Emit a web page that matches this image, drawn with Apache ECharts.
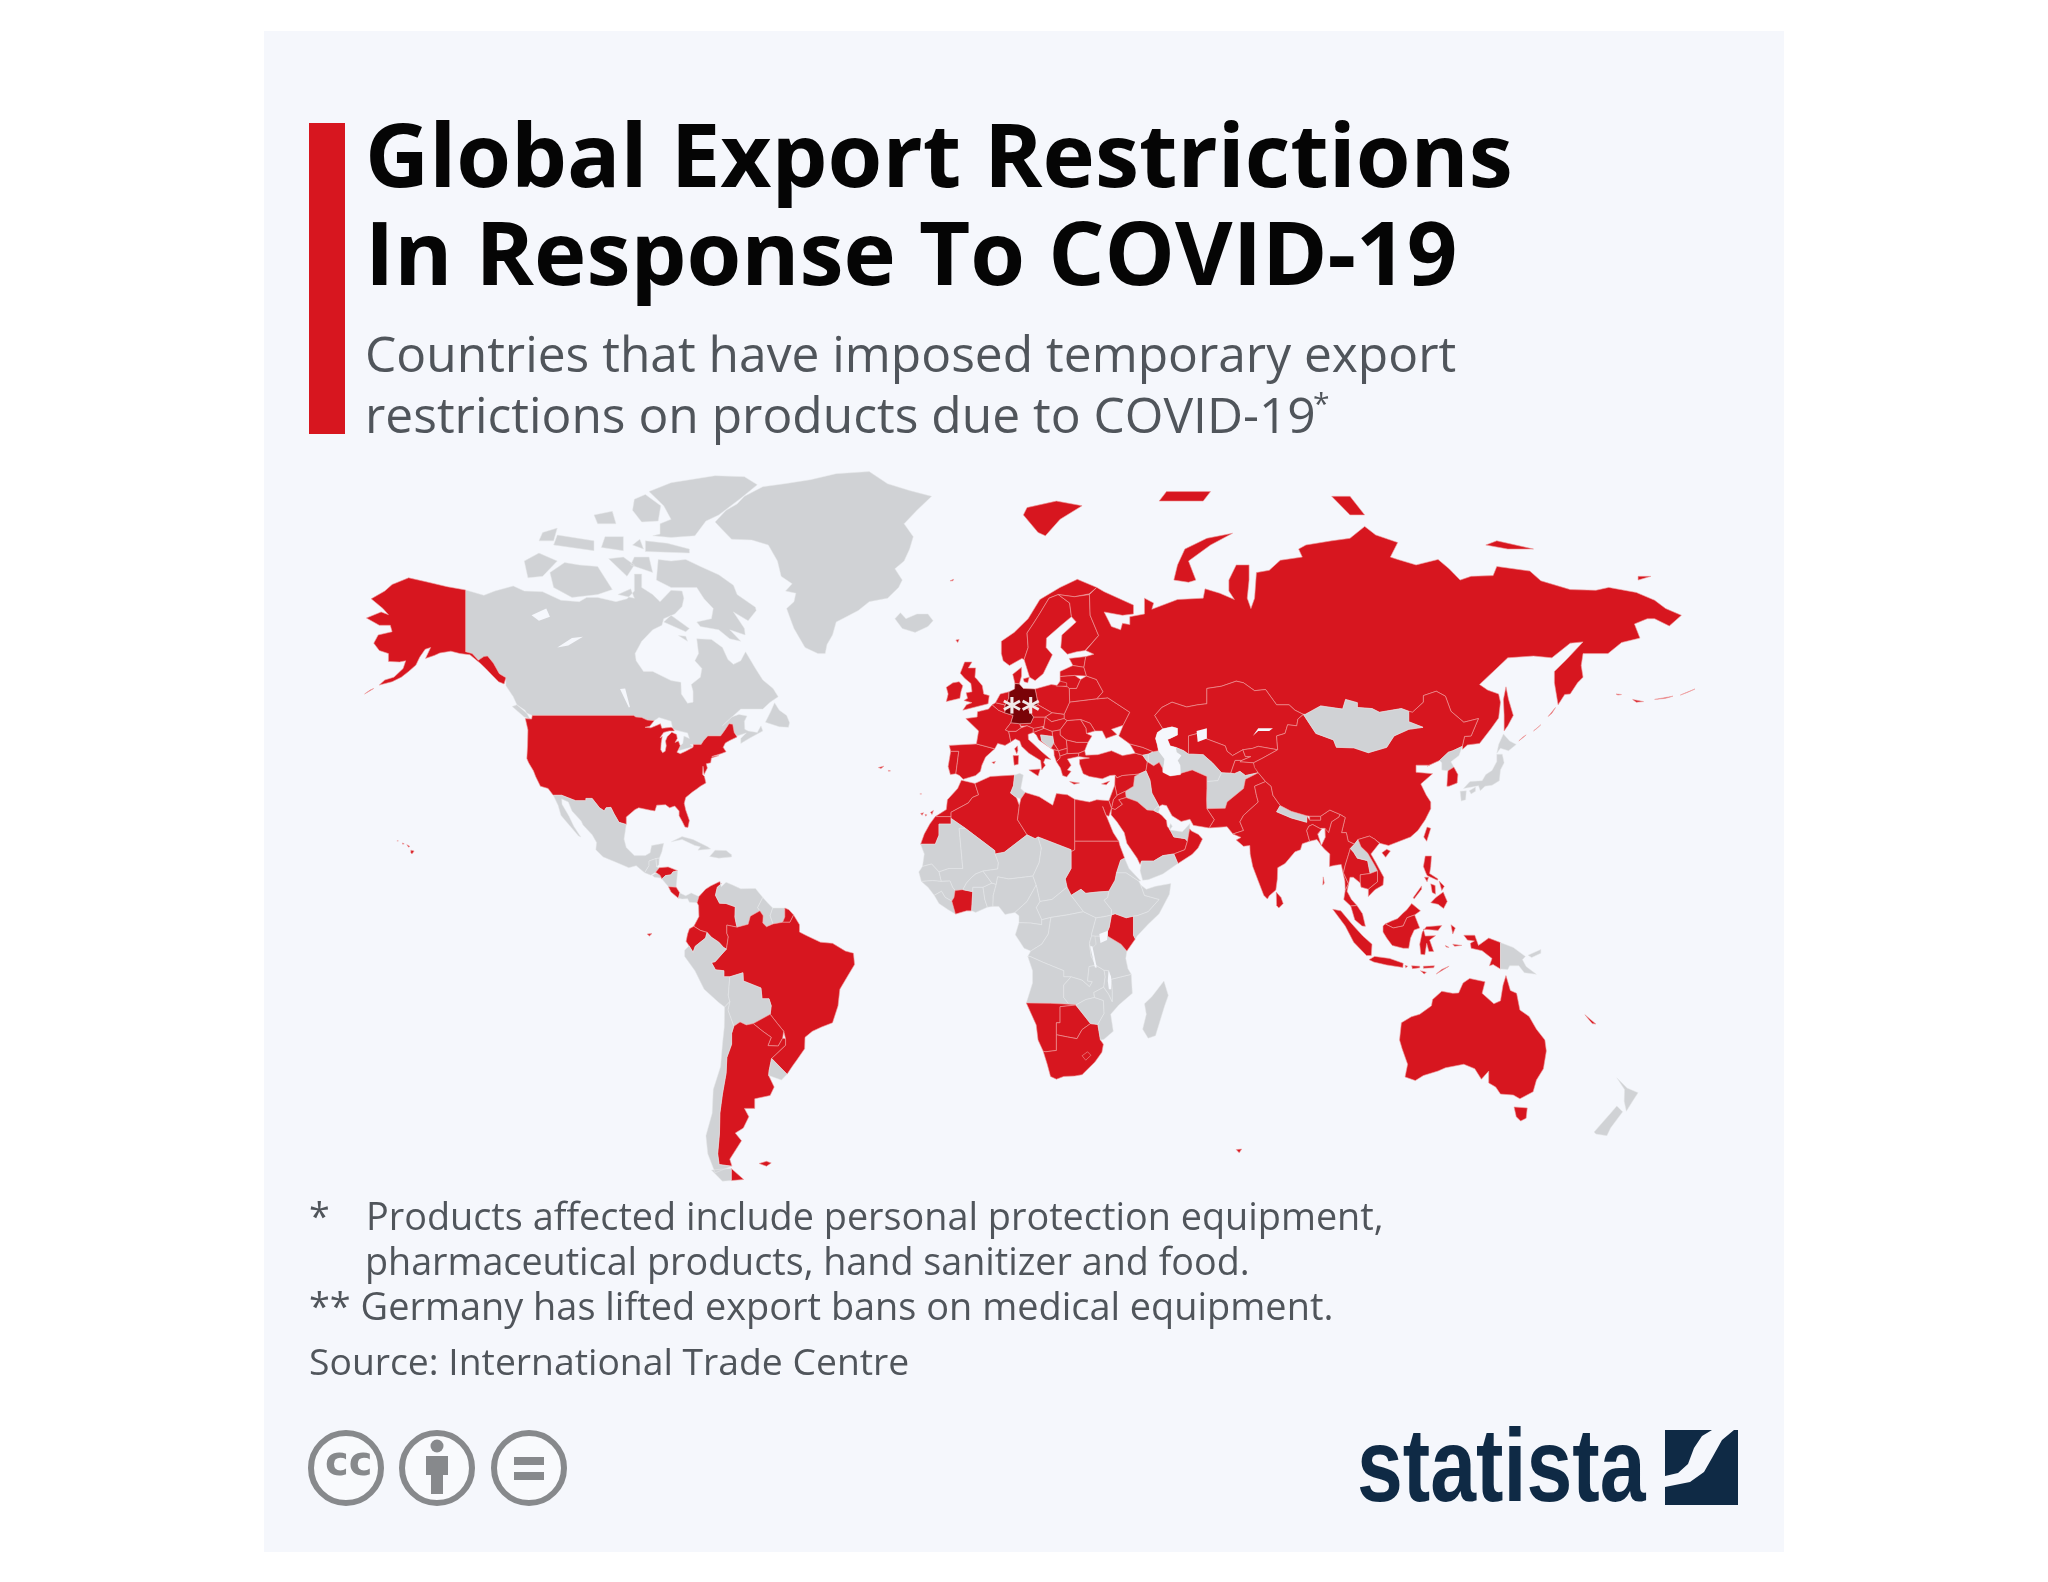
<!DOCTYPE html>
<html>
<head>
<meta charset="utf-8">
<script src="https://cdnjs.cloudflare.com/ajax/libs/echarts/6.0.0/echarts.min.js"></script>
<style>
  body { margin: 0; background-color: #fff; }
  #mainChart { width: 2048px; height: 1582px; }
</style>
</head>
<body>
<div id="mainChart"></div>
<script>
var titleLines = ['Global Export Restrictions', 'In Response To COVID-19'];
var subtitleLines = ['Countries that have imposed temporary export', 'restrictions on products due to COVID-19'];
var noteLines = ['Products affected include personal protection equipment,', 'pharmaceutical products, hand sanitizer and food.', '** Germany has lifted export bans on medical equipment.', 'Source: International Trade Centre'];

var restrictedCountries = ['United States', 'Russia', 'China', 'India', 'Bangladesh', 'Bhutan', 'Pakistan', 'Iran', 'Turkey', 'Kazakhstan', 'Uzbekistan', 'Kyrgyzstan', 'Tajikistan', 'Georgia', 'Syria', 'Jordan', 'Israel', 'Saudi Arabia', 'Oman', 'South Korea', 'Taiwan', 'Myanmar', 'Thailand', 'Cambodia', 'Vietnam', 'Malaysia', 'Indonesia', 'Philippines', 'Sri Lanka', 'Australia', 'Portugal', 'Spain', 'France', 'Belgium', 'Netherlands', 'Denmark', 'Switzerland', 'Austria', 'Italy', 'United Kingdom', 'Ireland', 'Norway', 'Sweden', 'Finland', 'Estonia', 'Latvia', 'Lithuania', 'Belarus', 'Ukraine', 'Poland', 'Czechia', 'Slovakia', 'Hungary', 'Romania', 'Moldova', 'Bulgaria', 'Serbia', 'Croatia', 'Slovenia', 'Montenegro', 'Albania', 'North Macedonia', 'Greece', 'Cyprus', 'Morocco', 'Western Sahara', 'Algeria', 'Libya', 'Egypt', 'Sudan', 'Ivory Coast', 'Kenya', 'Namibia', 'Botswana', 'South Africa', 'Lesotho', 'Honduras', 'Costa Rica', 'Colombia', 'Ecuador', 'Brazil', 'French Guiana', 'Paraguay', 'Argentina'];
var liftedCountries = ['Germany'];
var otherCountries = ['Canada', 'Greenland', 'Iceland', 'Mexico', 'Guatemala', 'Belize', 'El Salvador', 'Nicaragua', 'Panama', 'Cuba', 'Hispaniola', 'Venezuela', 'Guyana', 'Suriname', 'Peru', 'Bolivia', 'Chile', 'Uruguay', 'Bosnia', 'Azerbaijan', 'Armenia', 'Turkmenistan', 'Afghanistan', 'Iraq', 'Kuwait', 'Qatar', 'UAE', 'Yemen', 'Nepal', 'Mongolia', 'North Korea', 'Japan', 'Laos', 'Papua New Guinea', 'New Zealand', 'Tunisia', 'Mauritania', 'Mali', 'Senegal', 'Guinea', 'Sierra Leone', 'Ghana', 'Togo', 'Burkina Faso', 'Niger', 'Nigeria', 'Chad', 'Central African Republic', 'Cameroon', 'Gabon', 'DR Congo', 'Angola', 'Zambia', 'Zimbabwe', 'Mozambique', 'Malawi', 'Tanzania', 'Uganda', 'Rwanda', 'South Sudan', 'Ethiopia', 'Eritrea', 'Somalia', 'Madagascar'];
var lakeNames = ['Lakes'];

// country outlines, lon,lat rings
var countryShapes = {
  'Canada': [
    '-141,69.65 -136,68.9 -133,69.5 -128,70.2 -125,69.5 -120,69.4 -115,68.2 -110,68 -108,68.6 -105,68.6 -100,68 -97,68.4 -95,69.5 -95,71.8 -93,71.8 -93,70 -91.5,69.5 -90,69 -88,68 -85,69.6 -82,69.5 -81.5,68.5 -82,67.3 -84,66.2 -87,65.5 -87.5,64.5 -90,63.8 -93,62 -94.8,60 -94.5,58.8 -92.5,57 -90,57 -85,55.4 -82.3,55.1 -82.2,53 -80.5,51.3 -79,51.5 -79,53.5 -79.5,54.7 -77,56 -76.6,57.5 -78.5,58.8 -77.5,60 -78,62.4 -74,62.3 -71,61 -69.5,59 -68,58.2 -66,58.8 -64.7,60.3 -62,57.5 -60,55.5 -57.2,54 -55.8,52.5 -58,51.5 -60,50.2 -66,50.2 -69,48.3 -71,47 -68.5,48.7 -66.5,49.2 -64.3,48.9 -65,47.9 -64.9,46.3 -64,46 -61.5,45.7 -60.5,47 -60,46 -63.5,44.6 -66,43.5 -66,44.5 -64.5,45.6 -67,45 -67.8,45.7 -68.2,47.3 -69.2,47.4 -70.3,46.2 -71.5,45 -75,45 -76.2,44 -76.8,43.3 -78.9,43.3 -79.8,43.3 -79,42.8 -83,42 -82.5,43 -81.8,43.5 -81.5,45 -80,44.5 -80.5,45.6 -84,46.2 -84.6,46.6 -85,47.9 -88.3,48.6 -89.6,48 -91.5,48.1 -93,48.6 -94.6,48.7 -95.2,49 -122.8,49 -124.5,49.5 -127,51 -128,52.5 -130,54.5 -130,55.9 -131.8,56.6 -133.4,58.4 -135,59.6 -137.5,58.9 -139.2,60 -141,60.3',
    '-61.8,66.7 -64,65.2 -68,66.5 -65,64 -64.8,63 -69,63.8 -66,62 -69,62.4 -72,63.8 -77,64.3 -78,65 -74,65.5 -73.5,67 -76,68.4 -78,70 -85,70 -89,71 -88.5,73.7 -85,73.5 -81,73.7 -77,72.8 -72,71.7 -68,70.3 -67,69 -62,67.2',
    '-117,70 -112,68.6 -105,69 -101,69.7 -105,72.8 -110,73 -114,73.3 -118,72',
    '-124,71.3 -120,71.5 -116,73.5 -121,74.5 -125,73.5',
    '-90,76.6 -85,76.4 -78.5,76.6 -75.5,78.3 -72,79 -66,80.8 -61.5,82.2 -65,83 -73,83.1 -85,82.4 -91,81.5 -87,80 -85,78.5 -88,78 -88,76.8',
    '-95.5,79.5 -93,78.2 -88.5,78.3 -87.8,80 -92,81.2 -95,80.7',
    '-92,76 -86,75.7 -80,75 -80,74.5 -92,74.7',
    '-96,73 -90,72 -91,74 -95,74',
    '-117,75.5 -106,74.8 -106,76 -116,76.7',
    '-102,73.8 -97,71.5 -95,73 -98,74',
    '-104,75.2 -98,74.8 -98,76.5 -103,76.5',
    '-105,78 -100,78 -101,79.4 -106,79',
    '-95.5,75.5 -92.5,75 -93.5,76.2',
    '-121,76 -117,76 -116,77.5 -120,77',
    '-99.5,69 -95,68.5 -96,69.8',
    '-83,62.9 -80.5,62 -81,62.8',
    '-87,65 -81,63.5 -80,64 -85,66',
    '-59.3,47.7 -55.5,46.8 -53,46.7 -52.7,47.6 -53.5,49 -55.5,50 -56.8,51.4 -57.8,49.8',
    '-128.3,50.7 -125,48.7 -123.4,48.3 -124.8,50 -127,51'
  ],
  'United States': [
    '-124.7,48.4 -123,48.3 -122.8,49 -95.2,49 -94.6,48.7 -93,48.6 -91.5,48.1 -89.6,48 -90.8,46.9 -92.1,46.7 -90.5,46.6 -88.5,47.2 -87.9,47.4 -87.5,46.5 -85,46.7 -84.5,46.5 -84.1,46 -85.5,46 -87,45.7 -87.6,45.1 -88,44.6 -87.4,44.9 -87.7,43.5 -87.8,42.2 -87.3,41.6 -86.6,41.9 -86.3,43 -86.5,44 -86,44.9 -85.4,45.3 -84.8,45.75 -83.5,45.3 -83.3,44.5 -83.9,43.7 -83,44 -82.5,43 -83.1,42.1 -83.4,41.7 -82.5,41.4 -81,41.9 -79,42.7 -78.9,43.3 -76.8,43.3 -76.2,44 -75,45 -71.5,45 -70.3,46.2 -69.2,47.4 -68.2,47.3 -67.8,45.7 -67,44.8 -69,44.1 -70.2,43.6 -70.8,42.7 -70,41.8 -71.4,41.4 -73.9,40.8 -72,41 -74,40.5 -74.2,39.5 -75.4,39.3 -75.1,38.4 -76,37 -76.3,38.8 -76.4,37 -75.9,36.6 -75.5,35.2 -77,34.5 -78,33.9 -79.2,33.2 -81,32 -81.4,30.7 -81,29.2 -80,26.8 -80.4,25.2 -81.2,25.3 -81.9,26.5 -82.8,27.9 -82.8,29 -84,30.1 -85.4,29.7 -86.5,30.4 -88.9,30.3 -89.4,29 -90.9,29.2 -93.8,29.7 -94.8,29.3 -97.2,27.6 -97.2,25.9 -99.2,26.4 -100.5,28.3 -101.4,29.8 -102.7,29.7 -103.2,29 -104.5,29.7 -106.5,31.8 -108.2,31.8 -108.2,31.3 -111,31.3 -114.8,32.5 -117.1,32.5 -118.5,34 -120.6,34.5 -121.9,36.6 -122.5,37.8 -123.8,39.5 -124.3,40.4 -124.1,43 -124,46.2',
    '-141,69.65 -141,60.3 -139.2,60 -137.5,58.9 -136,59.5 -135,59.6 -133.4,58.4 -131.8,56.6 -130,55.9 -130.5,54.8 -132,55.2 -134,56.5 -135.5,57.5 -137,58.4 -139.8,59.8 -142.5,60 -145,60.4 -148,60.1 -149.5,59.7 -151.9,59.2 -150.5,61 -152,60.7 -153.5,59.4 -154.5,58.1 -156.5,57 -158.5,56 -161,55.2 -164.5,54.6 -163,55.5 -160.5,56 -158,57.5 -157.3,58.8 -159,58.6 -162,58.7 -162,60 -164.5,60.5 -166,61.7 -164.8,63 -161,63.5 -161.5,64.5 -164.5,64.5 -168,65.6 -164,66.5 -162,66.1 -163.5,67 -166.7,68.4 -163,69.5 -161,70.4 -156.5,71.3 -152,70.8 -146,70.1',
    '-166,54 -168.5,53 -167,53.7',
    '-155.9,19.9 -155,19.7 -155.6,19 -155.9,19.3',
    '-157,21.2 -156.2,20.8 -156.5,20.6',
    '-158.2,21.6 -157.7,21.4 -158.1,21.3',
    '-159.7,22.1 -159.3,22.1 -159.5,21.9',
    '172.5,53 174,52.9 173,52.8',
    '177,52 180,51.6 178,51.5',
    '183,52 188,52.6 186,52.2',
    '190,52.8 194,53.9 192,53.3'
  ],
  'Greenland': ['-73,78.2 -71,77.3 -68.5,76.2 -63,76.1 -58.5,75.5 -56,73.5 -55,71.5 -52,70.5 -53.8,69.5 -51,69.2 -51.5,68 -53.5,67 -52.5,65.5 -51.5,64 -50,62.5 -48.5,61 -45,60 -43,60 -42.5,61.5 -41,63 -40,65 -37.5,65.7 -34,66.7 -31,68 -26,68.5 -23,70 -22,71 -24,72.5 -21.5,73.5 -20,75 -19,76.5 -21.5,78 -18,79.5 -14,81 -20,81.6 -26,82.3 -31,83.5 -40,83.3 -47,82.7 -54,82.3 -60,82 -65,81 -67,80.2 -70,79.5'],
  'Iceland': ['-24,65.5 -22,64 -18.5,63.4 -15,64.3 -13.6,65.2 -15,66.2 -18,66.2 -21,65.5 -22.5,66.4'],
  'Mexico': ['-117.1,32.5 -114.8,32.5 -111,31.3 -108.2,31.3 -108.2,31.8 -106.5,31.8 -104.5,29.7 -103.2,29 -102.7,29.7 -101.4,29.8 -100.5,28.3 -99.2,26.4 -97.2,25.9 -97.8,22.5 -97.2,20.5 -95,18.6 -92,18.6 -90.7,19.3 -90.3,21 -87,21.5 -87.5,19.5 -88.2,18 -89.1,17.9 -91,17.3 -91,16.2 -92.2,14.5 -94.5,16.2 -96.5,15.7 -100,17 -103.5,18.3 -105.5,20 -105.3,21.7 -106.5,23.5 -109,25.8 -109.5,26.7 -112,29 -113,31 -114.8,31.7 -114.7,30.5 -112.8,27.8 -111.5,25.5 -110,23.5 -109.5,23 -110.2,23.2 -112,25 -114,27 -115,28 -115.8,30.3'],
  'Guatemala': ['-92.2,14.5 -91,16.2 -91,17.3 -89.1,17.9 -88.9,15.9 -88.2,15.7 -89.2,14.6 -90.5,13.9'],
  'Belize': ['-89.1,17.9 -88.2,18 -88.3,16.5 -88.9,15.9'],
  'El Salvador': ['-90.1,13.8 -89.2,14.4 -87.8,13.9 -87.8,13.2 -89.5,13.4'],
  'Honduras': ['-89.2,14.6 -88.2,15.7 -85.8,15.9 -83.2,15 -84.5,14.7 -85,14 -86.5,13.8 -87.5,13 -88,13.9'],
  'Nicaragua': ['-87.5,13 -86.5,13.8 -85,14 -84.5,14.7 -83.2,15 -83.6,11 -85.7,11.1'],
  'Costa Rica': ['-85.7,11.1 -83.6,11 -82.6,9.6 -83,8.3 -85,9.8'],
  'Panama': ['-83,8.3 -82.6,9.6 -81,8.9 -79.5,9.6 -77.4,8.7 -77.9,7.2 -80,7.3 -80.5,8.2 -82,8.1'],
  'Cuba': ['-84.9,21.9 -82,23.1 -79,22.4 -75,20.7 -74.2,20.2 -77.7,19.9 -77,20.7 -78.5,21 -82,22.4'],
  'Hispaniola': ['-74.5,18.4 -72,18 -68.5,18.3 -68.5,18.8 -70,19.8 -73,19.9'],
  'Colombia': ['-77.4,8.7 -75.6,10.5 -74.2,11.3 -71.7,12.4 -71.3,11.8 -72.4,11 -72.9,9 -71.8,7.1 -70,7 -67.5,6.2 -67.6,3.7 -67.3,2.3 -67,1.2 -69.8,1.7 -69.8,-0.3 -69.4,-1.2 -69.9,-4.2 -70.7,-3.8 -72,-2.5 -74,-1.3 -75.2,-0.1 -77,0.4 -78.8,1.4 -77.4,3.8 -77.5,6.5 -77.9,7.2'],
  'Venezuela': ['-71.7,12.4 -71.3,11.8 -72.4,11 -72.9,9 -71.8,7.1 -70,7 -67.5,6.2 -67.6,3.7 -67.3,2.3 -67,1.2 -64,1.9 -63.4,3.9 -60.8,5.2 -61.4,6 -60,8.5 -62,10.7 -66,10.6 -68.2,11.5 -70,12.2 -71.3,11.1'],
  'Guyana': ['-60,8.5 -61.4,6 -60.8,5.2 -59.9,4 -60,2.2 -59,1.3 -57.2,2 -58,4 -57.3,5.9 -58.5,7'],
  'Suriname': ['-57.3,5.9 -58,4 -57.2,2 -54.6,2.4 -54,3.7 -54,5.9'],
  'French Guiana': ['-54,5.9 -54,3.7 -54.6,2.4 -52.6,2.4 -51.6,4.2 -52.9,5.5'],
  'Brazil': ['-51.6,4.2 -52.6,2.4 -54.6,2.4 -57.2,2 -59,1.3 -60,2.2 -59.9,4 -60.8,5.2 -63.4,3.9 -64,1.9 -67,1.2 -69.8,1.7 -69.8,-0.3 -69.4,-1.2 -69.9,-4.2 -73,-7.3 -74,-7.5 -72.9,-9.3 -70.6,-9.5 -70.6,-11 -69,-11 -65.4,-10 -65.3,-12 -60.5,-13.7 -60.2,-16.3 -58.3,-16.3 -57.7,-18 -58,-20 -56,-22.2 -54.3,-24 -53.8,-25.7 -53.8,-27.2 -57.6,-30.2 -53.4,-33.7 -52,-32 -50.5,-30.3 -48.6,-28 -48.5,-25.4 -46.5,-24 -44,-23 -41,-22 -39.5,-18 -39,-14 -37,-11 -35,-8 -35.3,-5.2 -37.5,-4.7 -41,-2.8 -44.3,-2.5 -48.3,-0.8 -50,0 -50,1.8'],
  'Ecuador': ['-80.1,-3.4 -80.9,-2.3 -80.5,-0.5 -80,0.8 -78.8,1.4 -77,0.4 -75.2,-0.1 -75.6,-1.5 -78.4,-3.5 -79,-5', '-91.5,-0.5 -90.2,-0.4 -90.9,-1'],
  'Peru': ['-81.3,-4.5 -80.1,-3.4 -79,-5 -78.4,-3.5 -75.6,-1.5 -75.2,-0.1 -74,-1.3 -72,-2.5 -70.7,-3.8 -69.9,-4.2 -73,-7.3 -74,-7.5 -72.9,-9.3 -70.6,-9.5 -70.6,-11 -69,-11 -69.4,-15.5 -69,-17 -70.4,-18.3 -72,-17.2 -76,-14 -78.5,-9.5 -81.3,-6'],
  'Bolivia': ['-69,-11 -65.4,-10 -65.3,-12 -60.5,-13.7 -60.2,-16.3 -58.3,-16.3 -57.7,-18 -58,-20 -62.6,-22.2 -64.5,-22.5 -66.2,-21.8 -67.9,-22.8 -69.5,-19 -69,-17 -69.4,-15.5'],
  'Paraguay': ['-58,-20 -56,-22.2 -54.3,-24 -54.6,-25.6 -55.8,-27.4 -58.6,-27.3 -57.7,-25.4 -60,-24 -62.6,-22.2'],
  'Argentina': ['-66.2,-21.8 -64.5,-22.5 -62.6,-22.2 -60,-24 -57.7,-25.4 -58.6,-27.3 -55.8,-27.4 -54.6,-25.6 -53.8,-25.7 -53.8,-27.2 -57.6,-30.2 -58.3,-33 -58.4,-34 -56.9,-36.5 -58,-38.3 -62.2,-39 -62.2,-41 -65,-41 -63.8,-42.7 -65.3,-45 -67.5,-46 -65.8,-47.5 -69,-51 -68.4,-52.3 -71.9,-52 -72.3,-50 -71.8,-46 -71.7,-42 -71,-38 -70,-33.5 -69.8,-30 -68.5,-27 -68.5,-24.5 -67.9,-22.8', '-68.6,-52.7 -68.6,-54.9 -65.2,-54.7', '-61,-51.8 -59,-51.4 -57.7,-51.7 -59,-52.3'],
  'Chile': ['-70.4,-18.3 -69,-17 -69.5,-19 -67.9,-22.8 -68.5,-24.5 -68.5,-27 -69.8,-30 -70,-33.5 -71,-38 -71.7,-42 -71.8,-46 -72.3,-50 -71.9,-52 -68.4,-52.3 -73,-53.5 -75,-50 -75.5,-46.5 -73.8,-42 -73.5,-37 -71.5,-32 -71,-27 -70.5,-23', '-68.6,-52.7 -68.6,-54.9 -71,-55 -74,-53'],
  'Uruguay': ['-57.6,-30.2 -53.4,-33.7 -54.9,-35 -58.4,-34 -58.3,-33'],

  'Portugal': ['-9.5,38.7 -8.8,41.9 -6.6,41.9 -7,39.5 -7.4,37.2 -8.9,37', '-28.5,38.5 -27,38.8 -27.8,38.3', '-25.8,37.9 -25.2,37.8 -25.7,37.7', '-17.2,32.8 -16.7,32.8 -16.9,32.6'],
  'Spain': ['-8.8,41.9 -9.2,43.1 -1.8,43.4 3.2,42.4 0.7,40.7 -0.3,39 -0.7,37.7 -2,36.8 -5.4,36 -6.4,36.8 -7.4,37.2 -7,39.5 -6.6,41.9', '-17,28.4 -16.2,28.6 -16.6,28', '-15.8,28.2 -15.3,28.1 -15.6,27.8', '-14.3,28.7 -13.5,29.1 -13.9,28.2', '2.4,39.6 3.4,39.8 3,39.3'],
  'France': ['-1.8,43.4 -1.2,46 -4.7,48.4 -1.6,48.7 -1.5,49.7 1.5,50.2 2.5,51 4.2,50 5.9,49.5 8.2,49 7.6,47.6 6.1,46.2 7,45.9 7.6,43.8 6,43.1 4,43.5 3.2,42.4', '8.6,42.4 9.4,43 9.5,42 9.2,41.4', '164,-20.1 167,-22.3 166,-22.2', '69,-49.2 70.5,-49.1 69.8,-49.8'],
  'Belgium': ['2.5,51 3.4,51.4 5.9,51 6.1,50.1 5.9,49.5 4.2,50'],
  'Netherlands': ['3.4,51.4 4.7,53 7.1,53.4 7,52.2 6,50.8 5.9,51'],
  'Denmark': ['8.7,54.9 8.1,56.5 10.5,57.7 10.5,56.2 9.9,54.8', '11,55.7 12.6,56 12.2,55 11.2,55.2', '-7.4,62.2 -6.5,62.3 -6.9,61.8'],
  'Switzerland': ['6.1,46.2 7.6,47.6 10,47.4 10.4,46.6 9,45.9 7,45.9'],
  'Austria': ['10,47.4 13,47.5 13.8,48.7 17,48.7 16.6,46.9 14,46.4 12,47 10.4,46.9'],
  'Italy': ['7,45.9 9,45.9 10.4,46.6 12,47 13.7,46.5 13.7,45.7 12.3,45.3 12.4,44.3 13.6,43.5 16,41.8 18.5,40.2 17,40.4 16.5,39.6 17,39 16,38 15.7,40 12.5,41.5 10.5,42.9 10,44 8.8,44.4 7.6,43.8', '12.5,38 15.6,38.2 15,36.7', '8.2,41 9.7,41 9.6,39.2 8.5,39'],
  'United Kingdom': ['-5.5,50 1.4,51.2 1.7,52.7 0.2,53 -0.2,54.5 -1.6,55.6 -2.2,56 -2,57.6 -4,57.6 -3,58.6 -5,58.6 -6.2,56.7 -5,55.8 -3.3,54.9 -3,53.4 -4.6,53.2 -4.2,52.2 -5.2,51.8 -3,51.4 -4.5,51'],
  'Ireland': ['-10,51.6 -6.3,52.2 -6,53.4 -5.5,54.5 -6.5,55.2 -8.2,55 -10,54.2 -9.5,53'],
  'Norway': ['5,60 5.5,58.8 7.2,58 10.6,59.2 11.2,59 12.3,61 12,63.3 14,65 15.5,66.3 18,68.5 20.5,69 24.9,68.7 28.9,69.1 31,70 25.7,71.1 21,70 15.5,68.3 12.3,65.5 8.5,63.4 5,62', '11,79 15,77 17,76.6 21,78.5 27,80 20,80.5 12,79.8', '-9,70.9 -8,71.1 -8.2,70.9'],
  'Sweden': ['11.2,59 12.7,56 14.2,55.4 16.4,56.6 18.9,59.8 17.2,61 17.3,62.5 21.3,64.5 24.1,65.8 23.6,67.8 20.5,69 18,68.5 15.5,66.3 14,65 12,63.3 12.3,61'],
  'Finland': ['24.1,65.8 25.4,65 21.5,63 21.2,61 23,59.9 25.5,60.3 27.8,60.5 31.5,62.9 29.2,66 29,69 28.9,69.1 24.9,68.7 20.5,69 23.6,67.8'],
  'Estonia': ['23.5,59.2 28,59.5 27.5,57.7 24.5,58'],
  'Latvia': ['21,57 24.5,58 27.5,57.7 28.2,56.2 25,56.3 21,56.1'],
  'Lithuania': ['21,56.1 25,56.3 26.6,55.6 25.5,54 23.5,54 21,55.2'],
  'Belarus': ['23.5,54 25.5,54 26.6,55.6 28.2,56.2 30.9,55.6 32.7,53.4 31,52.1 23.6,51.5'],
  'Ukraine': ['23.6,51.5 31,52.1 34,52.3 40,49.6 38.2,47.1 35,46.3 36.5,45.3 33.5,44.5 32.5,46 30.5,46 29.2,47.5 26.6,48.2 22.9,48 22.1,48.4 22.1,49.2'],
  'Poland': ['14.2,53.9 18.6,54.7 23,54.3 23.5,54 23.6,51.5 22.1,49.2 18.8,49.5 15,51 14.6,52.6'],
  'Germany': ['6,50.8 7,52.2 7.1,53.4 8.6,53.9 8.7,54.9 9.9,54.8 11,54 14.2,53.9 14.6,52.6 15,51 12.2,50.3 13.8,48.7 13,47.5 10,47.4 7.6,47.6 8.2,49 5.9,49.5 6.1,50.1'],
  'Czechia': ['12.2,50.3 15,51 18.8,49.5 17,48.7 13.8,48.7'],
  'Slovakia': ['17,48.7 18.8,49.5 22.1,49.2 22.1,48.4 18.7,47.8'],
  'Hungary': ['16.6,46.9 17,48.7 18.7,47.8 22.1,48.4 22.9,48 21,46.2 18.8,45.9 16.6,46.5'],
  'Romania': ['22.9,48 26.6,48.2 28.1,46.5 28.2,45.5 29.7,45 28.6,43.7 25.5,43.7 22.7,44.2 21,45.2 21,46.2'],
  'Moldova': ['26.6,48.2 29.2,47.5 30.5,46 28.2,45.5 28.1,46.5'],
  'Bulgaria': ['22.7,44.2 25.5,43.7 28.6,43.7 27.7,42 26.1,41.5 22.9,41.4 22.9,42.5'],
  'Serbia': ['18.8,45.9 21,46.2 21,45.2 22.7,44.2 22.9,42.5 20.6,42 19.3,43.5 19,44.9'],
  'Croatia': ['13.7,45.7 16.6,46.5 18.8,45.9 19,44.9 15.7,45.2 16,44 18.5,42.5 15.2,44.2 14.5,45.2'],
  'Slovenia': ['13.7,46.5 16.1,46.8 16.6,46.5 13.7,45.7'],
  'Bosnia': ['15.7,45.2 19,44.9 19.3,43.5 18.5,42.5 16,44'],
  'Montenegro': ['18.5,42.5 19.3,43.5 20.6,42 19.3,42.2'],
  'Albania': ['19.3,42.2 20.6,42 21,40.9 21,40.5 20,39.7 19.4,41'],
  'North Macedonia': ['20.6,42 22.9,42.5 22.9,41.4 21,40.9'],
  'Greece': ['20,39.7 21,40.5 21,40.9 22.9,41.4 26.1,41.5 26,40.8 23,40.3 24,39 23,38 24,37.7 22.8,36.5 21.7,36.8 21.1,38.4', '23.6,35.5 26.3,35.2 24.8,34.9'],
  'Turkey': ['26.1,41.5 27.7,42 28,41.1 31.3,41.2 35,42 38,41 41.5,41.5 43.5,41.1 44.8,39.7 44.4,37.8 42.4,37.1 38,36.8 36.5,36.3 36,36.9 34.6,36.8 32.5,36.1 30.5,36.4 29,36.6 27.3,37.2 26.3,39.3 26.3,40.2 29,40.5 26,40.8'],
  'Cyprus': ['32.3,35 34.5,35.6 33.6,34.8'],
  'Georgia': ['40,43.4 43.5,42.7 46.4,41.8 45,41.3 43.5,41.1 41.5,41.5'],
  'Azerbaijan': ['45,41.3 46.4,41.8 47.8,42 49.5,40.3 49,37.5 48.9,38.4 48,39.6 46.5,38.9 45,39.8'],
  'Armenia': ['43.5,41.1 45,41.3 45,39.8 46.5,38.9 44.8,39.7'],

  'Russia': [
    '28,59.5 30.2,59.9 28,60.5 31.5,62.9 29.2,66 29,69 31,70 33,69.4 41,67.5 41,66.2 38,66 33,66.5 35,64.3 37.5,63.8 38,64.8 40,64.6 40,65.8 44,66.2 44,68.5 46.5,67.8 46,66.9 53,68.3 60,68.5 60.5,69.8 64.5,69.2 68.5,68.3 67,69.5 67,71 69,73 72.5,73 72.5,71 72,68.5 73,67 74,68.5 74.5,72 78,72.3 81,73.6 87,74 86,75 88,75.5 95,76 100,76.3 104,77.7 107,76.7 113,75.8 111,74 113,73.7 118,73 124,73.7 127,72.5 130,71 133,71.5 139,71.6 140,72.8 149,72.2 152,70.9 160,69.7 167,69.6 170.5,70 178,69.3 183,68.2 186,67 190.3,66 187,64.4 183,65.5 181,65.5 177.5,64.7 179,62.5 174,61.8 170.3,60 163.5,60 163,58 163.5,56 162,55 160,53 158.5,52.9 156.7,51 155.7,55 155.7,57 159,59 163.5,61.9 160,61.7 155,59.3 150,59.6 143,59.3 135.3,54.7 137.5,53.7 140.5,53 141,51.5 140.5,48.5 138.5,46.5 135.3,43.5 132,43.2 130.7,42.3 130.6,42.9 131.2,44.9 133,45 135,48.4 131,47.7 127.5,49.8 126,52.6 123.5,53.5 120,52.7 120,51.5 117,49.6 116,49.8 114,50.3 108,49.6 106,50.3 102,50.5 102,51.4 98.8,52 98,50.2 92,50.8 87.8,49.2 87.3,49.2 85,50 83.4,51 80,51 77,53.8 74,53.6 71,55 69,55.3 65,54.4 61,54 61,51.2 58.5,51 55.5,50.6 51.5,51.5 48.7,50.5 46.8,49 49,46.4 47.5,45.7 47,44.5 47.5,43.2 47.8,42 46.4,41.8 43.5,42.7 40,43.4 37,45 38.2,47.1 40,49.6 34,52.3 31,52.1 32.7,53.4 30.9,55.6 28.2,56.2 27.5,57.7',
    '20,54.4 22.8,54.4 22.8,55 21,55.3',
    '142.5,54.3 143.2,52 144.5,49 143,47 142,46 142,49 141.8,52',
    '52,71 56,70.7 58,71 56,73.5 62,75.5 68,76.9 61,76.3 55,75 53,73',
    '100,79 104,79 100,81 95,81',
    '48,80.5 60,80.5 62,81.5 50,81.5',
    '137,75.5 143,75 150,75 140,76',
    '178.5,71 182,71.5 178.5,71.5',
    '146,44 148,45.2 147,44.7',
    '150,46 152,47.2 150.8,46.4',
    '154,48.8 156,50.5 155,49.4'
  ],
  'Kazakhstan': ['46.8,49 48.7,50.5 51.5,51.5 55.5,50.6 58.5,51 61,51.2 61,54 65,54.4 69,55.3 71,55 74,53.6 77,53.8 80,51 83.4,51 85,50 87.3,49.2 85.8,48.3 85.5,47 83,47.2 82.3,45.5 80,45 80.3,42.2 75,42.9 73.5,42.5 70.8,42.2 68,41 66.5,41.9 66,43 61,44.4 58.5,45.5 56,45 56,41.3 54.7,42 52.5,42.7 51,43 50.3,44.3 51,44.5 53,45.2 53,46.5 51.5,46.8 49,46.4'],
  'Uzbekistan': ['56,45 58.5,45.5 61,44.4 66,43 66.5,41.9 68,41 70.8,42.2 71.5,40.8 73,40.8 70.5,40 68.7,40 67.5,37.3 65,37.4 62.5,39.5 60,41.2 57,41.3 56,41.3'],
  'Turkmenistan': ['52.5,42.7 54.7,42 56,41.3 57,41.3 60,41.2 62.5,39.5 65,37.4 64,35.7 61,35.5 61,36.6 57,38 54,37.3 53.8,37 53.7,39 53,40 54,41 52.7,41.7'],
  'Kyrgyzstan': ['70.8,42.2 73.5,42.5 75,42.9 80.3,42.2 76,40.4 73.7,39.5 70,39.7 70.5,40 73,40.8 71.5,40.8'],
  'Tajikistan': ['67.5,37.3 68.7,40 70.5,40 70,39.7 73.7,39.5 75,37.4 71.5,36.8 70,37.7 68.5,37.2'],
  'Afghanistan': ['61,35.5 64,35.7 65,37.4 67.5,37.3 68.5,37.2 70,37.7 71.5,36.8 75,37.4 71.5,36 71,34 69.5,33 66.5,31 66,29.6 61,29.5 60.9,31.5 61,34'],
  'Pakistan': ['61,29.5 66,29.6 66.5,31 69.5,33 71,34 71.5,36 75,37.4 77,35.5 74,34.5 74.5,32.5 75,31 71,28 70,26.5 71,24.5 68.1,23.7 66.5,25.4 61.6,25.1 63,27'],
  'Iran': ['44.8,39.7 46.5,38.9 48,39.6 48.9,38.4 49,37.5 51,36.7 53.8,37 54,37.3 57,38 61,36.6 61,35.5 61,34 60.9,31.5 61,29.5 63,27 61.6,25.1 57.3,25.7 56.4,27.1 54,26.6 51.5,27.9 50,30.2 48.8,30.4 48,30 46,33 45.5,35.8 44.4,37.8'],
  'Iraq': ['38.8,33.4 41,34.5 41.3,36.6 42.4,37.1 44.4,37.8 45.5,35.8 46,33 48,30 47.7,30 46.5,29.1 44.7,29.2 42,31.1 39,32'],
  'Syria': ['36,36.9 36.5,36.3 38,36.8 42.4,37.1 41.3,36.6 41,34.5 38.8,33.4 36.5,32.5 35.9,34.7'],
  'Jordan': ['36.5,32.5 38.8,33.4 39,32 37,31.5 38,30.5 36,29.3 35,29.6 35.5,31.5'],
  'Israel': ['35.5,33.9 35.9,34.7 36.5,32.5 35.5,31.5 35,29.6 34.3,31.3'],
  'Saudi Arabia': ['36,29.3 38,30.5 37,31.5 39,32 42,31.1 44.7,29.2 46.5,29.1 47.7,28.6 48.7,28 50,26.8 50.2,25.5 51,24.6 52,23 55.1,22.6 55.7,22 55,20 52,19 49,18.6 46.5,17.3 43.2,17.3 42.8,16.5 42,18 39.2,21.5 38.5,24 36.5,26.5 34.9,28.1 35,29.6'],
  'Kuwait': ['46.5,29.1 47.7,30 48.2,29.6 47.7,28.6'],
  'Qatar': ['50.9,24.6 51.6,25.5 51.1,26.1 50.8,25.5'],
  'UAE': ['51,24.6 52,23 55.1,22.6 55.7,22 56.3,24.9 56.4,26.1 54.3,24.2'],
  'Oman': ['55.7,22 55,20 52,19 53.1,16.7 57,18.9 58.6,20.4 59.8,22.5 58.7,23.6 56.8,24.4 56.3,24.9'],
  'Yemen': ['43.2,17.3 46.5,17.3 49,18.6 52,19 53.1,16.7 49,14.2 45,12.8 43.5,12.7 42.8,15'],
  'India': ['68.1,23.7 71,24.5 70,26.5 71,28 75,31 74.5,32.5 74,34.5 77,35.5 78.5,34.5 79,32.5 81,30.2 80,28.8 84,27.4 88.2,26.4 88.2,27.9 89,26.9 92,26.9 92,27.8 94.5,29.2 97.3,28.2 97,27.6 95,26.5 94.2,24 93.3,23 93.2,25 92,25 91.5,24 91.2,23.7 92.2,24.8 89.8,25.9 88.8,25.5 88.2,24.5 89,22 87,21.4 86.5,20 85,19.5 82.3,16.7 80.3,15.7 80.2,13 79.8,10.3 78,8.9 77.5,8.1 76.5,9 75,12.5 73.5,16 72.8,19 72.7,21 71,20.8 69,22.3 70.3,22.9', '92.7,13.5 93,12 92.6,11.5'],
  'Bangladesh': ['88.2,24.5 88.8,25.5 89.8,25.9 92.2,24.8 91.2,23.7 92.2,21 91,22.4 89,22'],
  'Nepal': ['80,28.8 81,30.2 84,28.9 88.2,27.9 88.2,26.4 84,27.4'],
  'Bhutan': ['89,26.9 89,27.8 92,27.8 92,26.9'],
  'China': ['73.7,39.5 76,40.4 80.3,42.2 80,45 82.3,45.5 83,47.2 85.5,47 85.8,48.3 87.3,49.2 90.7,45.5 95.5,44.2 96.3,42.7 101,42.6 105,41.6 110,42.7 112,45 116,46.3 119.9,46.7 116,47.8 116,49.8 117,49.6 120,51.5 120,52.7 123.5,53.5 126,52.6 127.5,49.8 131,47.7 135,48.4 133,45 131.2,44.9 130.6,42.9 128,42 126.8,41.7 124.4,40 121,38.8 121.7,39 118,39 118,37.5 122.5,37.2 119.3,35 120.8,32.5 122,31 122,29.5 120.5,27 118.5,24.5 116.5,23 113.5,22 110.5,21 108.2,21.5 106.7,22.5 105.3,23.2 102.2,22.4 101.2,21.3 99.5,22 99,24 97.7,24 98.7,27.5 97.3,28.2 94.5,29.2 92,27.8 89,27.8 88.2,27.9 84,28.9 81,30.2 79,32.5 78.5,34.5 77,35.5 75,37.4 74,38.5', '108.7,19.3 110,20.1 111,19.7 109.7,18.2'],
  'Taiwan': ['120.1,23 121,25.3 122,25 120.9,22'],
  'Mongolia': ['87.3,49.2 90.7,45.5 95.5,44.2 96.3,42.7 101,42.6 105,41.6 110,42.7 112,45 116,46.3 119.9,46.7 116,47.8 116,49.8 114,50.3 108,49.6 106,50.3 102,50.5 102,51.4 98.8,52 98,50.2 92,50.8 87.8,49.2'],
  'North Korea': ['124.4,40 126.8,41.7 128,42 130.6,42.9 129.7,41 127.5,39.7 128.3,38.6 126.7,37.8 125,38 125,39.5'],
  'South Korea': ['126.7,37.8 128.3,38.6 129.4,37 129.2,35.2 127,34.5 126.4,34.5 126.6,37'],
  'Japan': ['130.9,34 132.7,35.5 136,35.7 137,37 138.7,37.9 140,39.8 140,41.3 141.5,41.3 142,39.5 141,38 140.7,35.7 138.7,34.7 136.8,34.5 135.5,33.5 135,34.6 132.5,34.2', '140,41.5 140.5,43.3 141.8,45.4 143.5,44 145.3,43.3 143.2,42 141,42.5', '130,33.4 131.7,33.5 131.5,31.5 130.3,31.2', '132.5,33.5 134.2,34.3 134.2,33.4 133,32.8'],
  'Myanmar': ['92.2,21 93.3,23 93.2,25 94.2,24 95,26.5 97,27.6 97.3,28.2 98.7,27.5 97.7,24 99,24 99.5,22 101.2,21.3 100.1,20.3 98.7,16.3 98.2,14.5 99.6,11.8 98.7,10.2 98.6,12.5 97.6,16.5 96,16.3 94.4,16 94.5,19 93,20.2'],
  'Thailand': ['98.7,16.3 100.1,20.3 101,19.4 102,18 104.8,17.4 105.5,14.3 102.8,14 102.8,12 100.9,13.4 100,13.4 99.2,10 100.4,8 101.9,6.5 100.2,6.4 98.3,8 98.7,10.2 99.6,11.8 98.2,14.5'],
  'Laos': ['101.2,21.3 102.2,22.4 103,20.7 104.8,19.2 106.6,16.5 107.5,15 105.5,14.3 104.8,17.4 102,18 101,19.4 100.1,20.3'],
  'Cambodia': ['102.8,14 105.5,14.3 107.5,15 107.5,12.3 105,10.5 103,11 102.8,12'],
  'Vietnam': ['102.2,22.4 105.3,23.2 106.7,22.5 108,21.5 105.7,19 107,17 109.2,13.4 109,11.5 106.8,10.4 105,8.7 105,10.5 107.5,12.3 107.5,15 106.6,16.5 104.8,19.2 103,20.7'],
  'Malaysia': ['100.2,6.4 101.9,6.5 103.4,4.5 104.2,1.4 103.3,1.5 101.3,3', '109.6,2 111.3,2.7 113,3.3 114.5,4.7 115.5,5.5 116.8,7 119.2,5.2 117.6,4.2 115.5,3.5 114.5,1.5 111.8,1'],
  'Indonesia': [
    '95.3,5.6 97.5,5.2 100.5,2 103.5,-1 106,-3 105.8,-5.8 104.5,-5.8 101,-2.5 98.7,1.5',
    '105.2,-6.8 106.7,-6 110.8,-6.5 114.5,-7.7 114.4,-8.7 110,-8.1 106.5,-7.4',
    '115,-8.2 115.7,-8.4 115.2,-8.8',
    '116.8,-8.3 119,-8.4 119,-8.8 117,-9',
    '120,-8.4 123,-8.3 122.8,-8.8 120,-8.9',
    '119.2,-9.5 120.8,-9.9 120.2,-10.3',
    '123.5,-10.3 127,-8.4 125,-9.2',
    '109,1.5 109.6,2 111.8,1 114.5,1.5 115.5,3.5 117.6,4.2 119,1 117.5,0.5 116.5,-1.5 116,-4 114.5,-4 111.5,-3.3 110,-1.5 109,0',
    '119.3,-5.5 120.4,-5.6 120.9,-2.8 121.5,-4.8 122.8,-4.8 121.7,-2 123.3,-0.9 120.5,-1 120,0.7 124,0.4 125,1.6 120.8,1.3 119.7,0 119,-3',
    '127.5,1.8 128.7,1 128,-0.5',
    '128,-3 130.5,-3.3 128.5,-3.5',
    '126,-3.3 127,-3.8 126.2,-3.7',
    '131,-0.8 134,-0.8 135,-3.3 137.8,-1.5 141,-2.6 141,-9.1 139,-8 138,-8.3 138.7,-6.5 136,-4.6 133,-4 132.8,-2.8 133.9,-2.2 132,-2'
  ],
  'Papua New Guinea': ['141,-2.6 144.5,-3.8 147.8,-6 147,-6.8 148,-8.5 150.8,-10.4 147.5,-10 146,-8.3 143.5,-8.3 143,-9.2 141,-9.1', '148.5,-5.7 152,-4.3 152,-5.2 149.5,-6.3'],
  'Philippines': ['120.5,18.5 122.2,18.5 122,16 121.7,14.3 124,13 123.8,12.7 121,13.8 120.6,14.6 120,16', '122,7.2 123.4,8.5 125.4,9.8 126.5,7.5 125.5,5.8 124,6.8', '124.3,12.5 125.7,11.2 125,10.2', '122,11.8 123.2,11.4 123.3,9.3 122.4,9.7', '117.2,8.4 119.5,11.3 119.5,10.5 117.5,8.2', '120.3,13.4 121.4,13.4 121,12.3'],
  'Sri Lanka': ['79.9,9.8 81.2,8.5 81.8,7 80.6,5.9 80,6.5'],
  'Australia': ['113.5,-26 114,-22 116.7,-20.6 119,-20 122.2,-18 122.5,-16.5 125,-14.5 128,-15 129.6,-14.9 130.8,-12.5 132.6,-11.4 136.8,-12.2 136,-15 139.2,-17.5 141,-16.8 141.7,-13 142.5,-10.7 143.7,-14.3 145.4,-15 146.3,-19 148.8,-20.5 150.8,-23.5 153.1,-26 153.5,-28.5 152.7,-32.5 150.8,-35 149.9,-37.5 146.3,-39 144.5,-38.2 141,-38 139.7,-36.5 137.8,-35.6 137.8,-33 135.8,-34.8 134,-32.5 131,-31.5 126,-32.3 124,-33 120,-34 117.8,-35.1 115,-34.3 115.7,-31.5 114.2,-28', '144.7,-40.7 148.3,-40.9 148,-43 146.5,-43.6 145.3,-42.7'],
  'New Zealand': ['172.7,-40.5 174.3,-41.7 171,-45 170,-46.5 167,-46.2 166.5,-45.8 171,-42', '172.7,-34.5 175.5,-36.7 178.5,-37.7 177,-39.5 175.3,-41.6 174.7,-39.5 174.8,-37'],

  'Morocco': ['-5.9,35.8 -2.2,35.1 -1.2,32.6 -2.9,32 -4,30.8 -8.7,28.7 -8.7,27.7 -13,27.7 -10,29.3 -9.7,31.5 -6.9,34'],
  'Western Sahara': ['-8.7,27.7 -8.7,26 -12,26 -12,23.4 -13,21.3 -17,21.3 -16,23.7 -14.5,26 -13,27.7'],
  'Algeria': ['-2.2,35.1 2,36.6 8.6,36.9 8.3,34.6 7.5,33 9.1,32 9.9,30.2 9.4,27 12,23.5 5.8,19.4 3.3,19 3.2,19.8 -4.8,25 -8.7,27.3 -8.7,28.7 -4,30.8 -2.9,32 -1.2,32.6'],
  'Tunisia': ['8.6,36.9 10,37.3 11,36.9 10.3,34 11.5,33.1 10.3,31.7 9.1,32 7.5,33 8.3,34.6'],
  'Libya': ['11.5,33.1 15.3,32.2 19,30.3 20,32.9 23,32.6 25,31.6 25,20 24,19.5 24,20 15,23 14.2,22.6 12,23.5 9.4,27 9.9,30.2 10.3,31.7'],
  'Egypt': ['25,31.6 29,31 31,31.5 34.3,31.3 35,29.6 34.3,27.8 33.5,28 32.6,30 33.6,27.9 35.5,24 37,22 25,22'],
  'Sudan': ['24,19.5 25,20 25,22 37,22 37.3,21 38.6,18 37.5,17.5 36.4,14.5 36,12.7 34.3,10 31,9.8 28,9.5 26.7,10.5 24,9 22.9,11 22.4,13 24,15.5'],
  'Mauritania': ['-17,21.3 -13,21.3 -12,23.4 -12,26 -8.7,26 -8.7,27.3 -4.8,25 -6.5,25 -5.5,15.5 -9.3,15.5 -12,14.7 -14,16.6 -16.5,16 -16,19'],
  'Mali': ['-4.8,25 3.2,19.8 3.3,19 4.2,16.9 4,15.4 0,14.9 -2,14.2 -3.2,13.3 -4.5,12 -5.5,10.4 -7.6,10.2 -8.3,11 -9,12.5 -11.4,12.4 -12,14.7 -9.3,15.5 -5.5,15.5 -6.5,25'],
  'Senegal': ['-16.5,16 -14,16.6 -12,14.7 -11.4,12.4 -13.7,12.6 -16.8,12.4 -17.5,14.7'],
  'Guinea': ['-16.8,12.4 -13.7,12.6 -11.4,12.4 -9,12.5 -8.3,11 -7.6,10.2 -7.9,8.5 -8.5,7.6 -10.3,8.5 -11.3,10 -13.3,9 -15,11'],
  'Sierra Leone': ['-13.3,9 -11.3,10 -10.3,8.5 -8.5,7.6 -7.5,4.4 -9.5,5.5 -12,7'],
  'Ivory Coast': ['-7.6,10.2 -5.5,10.4 -2.8,9.9 -3.1,5.2 -4.5,5.2 -7.5,4.4 -8.5,7.6 -7.9,8.5'],
  'Ghana': ['-3.1,5.2 -2.8,9.9 -2.8,11 0,11 0.5,8 1.2,6.1 -2,4.8'],
  'Togo': ['0,11 2.4,12 3.6,11.7 2.8,9 2.7,6.3 1.2,6.1 0.5,8'],
  'Burkina Faso': ['-5.5,10.4 -4.5,12 -3.2,13.3 -2,14.2 0,14.9 2.4,12 0,11 -2.8,11 -2.8,9.9'],
  'Niger': ['3.3,19 5.8,19.4 12,23.5 14.2,22.6 15,23 15.9,20.4 15.3,16.9 13.6,13.7 10,13.3 7,13 4,13.5 3.6,11.7 2.4,12 0,14.9 4,15.4 4.2,16.9'],
  'Nigeria': ['2.7,6.3 2.8,9 3.6,11.7 4,13.5 7,13 10,13.3 13.6,13.7 14.5,11.5 12,7.5 8.7,4.8 6,4.3 4.3,6.3'],
  'Chad': ['15,23 24,20 24,19.5 24,15.5 22.4,13 22.9,11 18.8,8 15.5,7.5 14.5,11.5 13.6,13.7 15.3,16.9 15.9,20.4'],
  'Central African Republic': ['14.5,6 15.5,7.5 18.8,8 22.9,11 24,9 27.4,5 22.9,4.2 18.5,3.6 16,3'],
  'Cameroon': ['8.7,4.8 12,7.5 14.5,11.5 15.5,7.5 14.5,6 16,3 16,1.8 13,2.2 9.8,2.3 9.8,4'],
  'Gabon': ['9.8,2.3 13,2.2 16,1.8 16,3 18.5,3.6 17.8,-0.5 16,-3 13,-4.7 11.2,-4 8.8,-0.7'],
  'DR Congo': ['12.2,-6 13,-4.7 16,-3 17.8,-0.5 18.5,3.6 22.9,4.2 27.4,5 30.8,3.5 29.6,-0.5 29.6,-1 29,-2.8 29.5,-6 30.8,-8.2 28.9,-8.5 28.5,-12 29.8,-12.2 29,-13.4 27,-11.8 24,-11 22,-11 22,-9.5 16.5,-7.5 12.8,-6'],
  'Angola': ['12.2,-6 12.8,-6 16.5,-7.5 22,-9.5 22,-11 24,-11 22,-13 22,-16 23.4,-17.6 18.4,-17.4 11.8,-17.3 13.5,-12.5 13.5,-9.5'],
  'Zambia': ['24,-11 27,-11.8 29,-13.4 29.8,-12.2 28.5,-12 28.9,-8.5 30.8,-8.2 33,-9.4 33.3,-11 32.9,-13.5 30.2,-14.8 30.4,-16 28,-16.5 25.3,-17.8 23.4,-17.6 22,-16 22,-13'],
  'Namibia': ['11.8,-17.3 18.4,-17.4 23.4,-17.6 25.3,-17.8 21,-18.2 21,-22 20,-22 20,-28.4 17.1,-28.7 16.4,-28.6 15,-26 14.5,-22.5'],
  'Botswana': ['21,-18.2 25.3,-17.8 29.3,-22.2 27,-23.6 25.6,-25.7 23,-25.3 20,-24.8 20,-22 21,-22'],
  'South Africa': ['16.4,-28.6 17.1,-28.7 20,-28.4 20,-24.8 23,-25.3 25.6,-25.7 27,-23.6 29.3,-22.2 31.3,-22.4 32,-26 32.8,-27 32.4,-28.8 30.5,-31 27,-33.8 25,-34.1 22,-34.2 20,-34.8 18.4,-34.2 17.5,-31.5'],
  'Lesotho': ['27,-29.6 28.5,-28.7 29.4,-29.5 28,-30.6'],
  'Zimbabwe': ['25.3,-17.8 28,-16.5 30.4,-16 32.8,-16.7 33,-19.8 31.3,-22.4 29.3,-22.2'],
  'Mozambique': ['30.2,-14.8 32.9,-13.5 34.3,-15.3 35.2,-17 35.2,-14.5 34.9,-11.6 40.4,-10.4 40.7,-15 37,-17.8 34.8,-20 35.5,-24 32.9,-25.9 32,-26 31.3,-22.4 33,-19.8 32.8,-16.7 30.4,-16'],
  'Malawi': ['33,-9.4 34.3,-9.5 34.9,-11.6 35.2,-14.5 35.2,-17 34.3,-15.3 32.9,-13.5 33.3,-11'],
  'Tanzania': ['29.6,-1 30.5,-1 33.9,-1 37.6,-3 39.2,-4.7 38.9,-6.5 39.5,-9 40.4,-10.4 34.9,-11.6 34.3,-9.5 33,-9.4 30.8,-8.2 29.5,-6 29,-2.8'],
  'Kenya': ['33.9,-1 33.9,0.1 34.4,1.2 35,4.2 36,4.5 39,3.5 41,3.9 41,-0.8 41.5,-1.7 39.2,-4.7 37.6,-3'],
  'Uganda': ['29.6,-1 30.5,-1 33.9,-1 33.9,0.1 34.4,1.2 35,4.2 33,3.8 30.8,3.5 29.6,-0.5'],
  'Rwanda': ['29,-2.8 29.6,-1 30.5,-1 30.8,-3 29.5,-4.2'],
  'South Sudan': ['24,9 26.7,10.5 28,9.5 31,9.8 34.3,10 34,8.5 33,7.8 35,5.5 35,4.2 33,3.8 30.8,3.5 27.4,5'],
  'Ethiopia': ['36,12.7 36.4,14.5 39,14.5 42.4,12.5 43,11.5 44,9 48,8 45,5 42,4 41,3.9 39,3.5 36,4.5 35,4.2 35,5.5 33,7.8 34,8.5 34.3,10'],
  'Eritrea': ['36.4,14.5 37.5,17.5 38.6,18 39.8,15.5 43,12.5 42.4,12.5 39,14.5'],
  'Somalia': ['41,3.9 42,4 45,5 48,8 44,9 43,11.5 44.5,10.5 47,11.2 51.2,11.9 50.8,9.3 48,4.5 45,1.9 42,-1 41.5,-1.7 41,-0.8'],
  'Madagascar': ['49.3,-12 50.5,-15.5 49.5,-18 47,-25 45,-25.6 43.5,-23.5 44.5,-20 44,-17.5 46,-15.8'],

  'Lakes': [
    '-123,66 -119,67 -118,65.8 -121,65.2',
    '-116,61 -112,62.5 -109,62.7 -113,61.3',
    '-98.9,53.9 -96.5,50.5 -96.2,50.6 -97.5,54',
    '47.5,45.7 49,46.4 51.5,46.8 53,46.5 53,45.2 51,44.5 50.3,44.3 51,43 52.5,42.7 52.7,41.7 54,41 53,40 53.7,39 53.8,37 51,36.7 49,37.5 49.5,40.3 47.8,42 47.5,43.2 47,44.5',
    '58.2,46 61,46.5 61,44.5 58.5,43.8',
    '73.5,45 75,46.5 79,46.5 78,46 75,46',
    '31.7,-0.5 34,0.3 33.8,-2 32,-2.7',
    '34.2,-9.5 34.9,-11 34.9,-14 34.3,-14 34,-12',
    '29.2,-3.5 29.8,-3.5 31,-8.7 30.5,-8.7'
  ]
};

var PANEL = '#f5f7fc', RED = '#d7161f', DARKRED = '#7a0308', GREY = '#d0d2d5', TEXTGREY = '#50555b', NAVY = '#0f2a45';
var X_SCALE = 3.67, Y_SCALE = 4.06, LON0_X = 983, EQUATOR_Y = 932;

// miller projection, stretched a bit in y like the original
function millerY(lat) {
  return 1.25 * Math.log(Math.tan(Math.PI / 4 + 0.4 * lat * Math.PI / 180)) * 180 / Math.PI;
}
var projection = {
  project: function (p) { return [p[0] * X_SCALE, -millerY(p[1]) * Y_SCALE]; },
  unproject: function (p) {
    var y = -p[1] / Y_SCALE * Math.PI / 180;
    return [p[0] / X_SCALE, 2.5 * (Math.atan(Math.exp(0.8 * y)) - Math.PI / 4) * 180 / Math.PI];
  }
};

function parseRing(s) {
  return s.trim().split(/\s+/).map(function (p) { return p.split(',').map(Number); });
}

var features = [];
var minX = Infinity, maxX = -Infinity, minY = Infinity, maxY = -Infinity;
Object.keys(countryShapes).forEach(function (name) {
  var rings = countryShapes[name].map(function (s) {
    var r = parseRing(s);
    r.forEach(function (pt) {
      var q = projection.project(pt);
      minX = Math.min(minX, q[0]); maxX = Math.max(maxX, q[0]);
      minY = Math.min(minY, q[1]); maxY = Math.max(maxY, q[1]);
    });
    r.push(r[0]);
    return [r];
  });
  features.push({ type: 'Feature', properties: { name: name }, geometry: { type: 'MultiPolygon', coordinates: rings } });
});
echarts.registerMap('world', { type: 'FeatureCollection', features: features });

var mapData = [];
restrictedCountries.forEach(function (n) {
  mapData.push({ name: n, value: 1, itemStyle: { areaColor: RED, borderColor: '#ee9c9c', borderWidth: 0.6 } });
});
liftedCountries.forEach(function (n) {
  mapData.push({
    name: n, value: 2,
    itemStyle: { areaColor: DARKRED, borderColor: '#ee9c9c', borderWidth: 0.6 },
    label: { show: true, formatter: '**', color: '#f1e9e9', fontSize: 36, fontWeight: 'bold', fontFamily: 'DejaVu Sans', offset: [0, 9] }
  });
});
otherCountries.forEach(function (n) {
  mapData.push({ name: n, value: 0, itemStyle: { areaColor: GREY, borderColor: '#e6e8ea', borderWidth: 0.5 } });
});
lakeNames.forEach(function (n) {
  mapData.push({ name: n, value: 3, itemStyle: { areaColor: PANEL, borderColor: PANEL, borderWidth: 0 } });
});

function textEl(str, x, y, font, fill, z) {
  return { type: 'text', z: z || 5, silent: true, style: { text: str, x: x, y: y, font: font, fill: fill, verticalAlign: 'middle' } };
}

var graphics = [
  { type: 'rect', z: -10, silent: true, shape: { x: 264, y: 31, width: 1520, height: 1521 }, style: { fill: PANEL } },
  { type: 'rect', z: 5, silent: true, shape: { x: 309, y: 123, width: 36, height: 311 }, style: { fill: RED } },
  textEl(titleLines[0], 365, 162, 'bold 88.6px "Open Sans"', '#050505'),
  textEl(titleLines[1], 365, 260, 'bold 88.6px "Open Sans"', '#050505'),
  textEl(subtitleLines[0], 365, 358, '49.7px "Open Sans"', TEXTGREY),
  textEl(subtitleLines[1], 365, 419, '49.7px "Open Sans"', TEXTGREY),
  textEl('*', 1313, 405, '30px "Open Sans"', TEXTGREY),
  textEl('*', 309, 1219, '37.7px "Open Sans"', TEXTGREY),
  textEl(noteLines[0], 366, 1219, '37.8px "Open Sans"', TEXTGREY),
  textEl(noteLines[1], 365, 1264, '37.7px "Open Sans"', TEXTGREY),
  textEl(noteLines[2], 309, 1309, '37.9px "Open Sans"', TEXTGREY),
  textEl(noteLines[3], 309, 1364, '37.3px "Open Sans"', TEXTGREY)
];

// cc, by, nd badges
var badgeX = [346, 437, 529], BADGE = '#87898c';
badgeX.forEach(function (x) {
  graphics.push({ type: 'circle', z: 5, silent: true, shape: { cx: x, cy: 1468, r: 35 }, style: { fill: '#f9fafd', stroke: BADGE, lineWidth: 6 } });
});
graphics.push(textEl('cc', 325, 1465, 'bold 40px "DejaVu Sans"', BADGE));
graphics.push({ type: 'circle', z: 5, silent: true, shape: { cx: 437, cy: 1446, r: 6.5 }, style: { fill: BADGE } });
graphics.push({ type: 'polygon', z: 5, silent: true, shape: { points: [[426, 1456], [448, 1456], [448, 1475], [443, 1475], [443, 1494], [431, 1494], [431, 1475], [426, 1475]] }, style: { fill: BADGE } });
graphics.push({ type: 'rect', z: 5, silent: true, shape: { x: 514, y: 1457, width: 30, height: 8 }, style: { fill: BADGE } });
graphics.push({ type: 'rect', z: 5, silent: true, shape: { x: 514, y: 1472, width: 30, height: 8 }, style: { fill: BADGE } });

// statista logo
graphics.push({ type: 'text', z: 5, silent: true, x: 1357, y: 1473, scaleX: 0.8, style: { text: 'statista', x: 0, y: 0, font: 'bold 103px "Liberation Sans"', fill: NAVY, verticalAlign: 'middle' } });
graphics.push({ type: 'rect', z: 5, silent: true, shape: { x: 1665, y: 1430, width: 73, height: 75 }, style: { fill: NAVY } });
graphics.push({ type: 'polygon', z: 6, silent: true, shape: { points: [[1665, 1476], [1678, 1473], [1688, 1464], [1694, 1448], [1702, 1436], [1712, 1430], [1734, 1430], [1722, 1440], [1712, 1458], [1704, 1472], [1690, 1482], [1665, 1487]] }, style: { fill: PANEL } });

var chart = echarts.init(document.getElementById('mainChart'));
chart.setOption({
  animation: false,
  backgroundColor: '#fff',
  graphic: graphics,
  series: [{
    type: 'map',
    map: 'world',
    projection: projection,
    aspectScale: 1,
    roam: false,
    silent: true,
    selectedMode: false,
    showLegendSymbol: false,
    layoutCenter: [LON0_X + (minX + maxX) / 2, EQUATOR_Y + (minY + maxY) / 2],
    layoutSize: Math.max(maxX - minX, maxY - minY),
    label: { show: false },
    emphasis: { disabled: true },
    itemStyle: { areaColor: GREY, borderColor: '#e6e8ea', borderWidth: 0.5 },
    data: mapData
  }]
});
</script>
</body>
</html>
